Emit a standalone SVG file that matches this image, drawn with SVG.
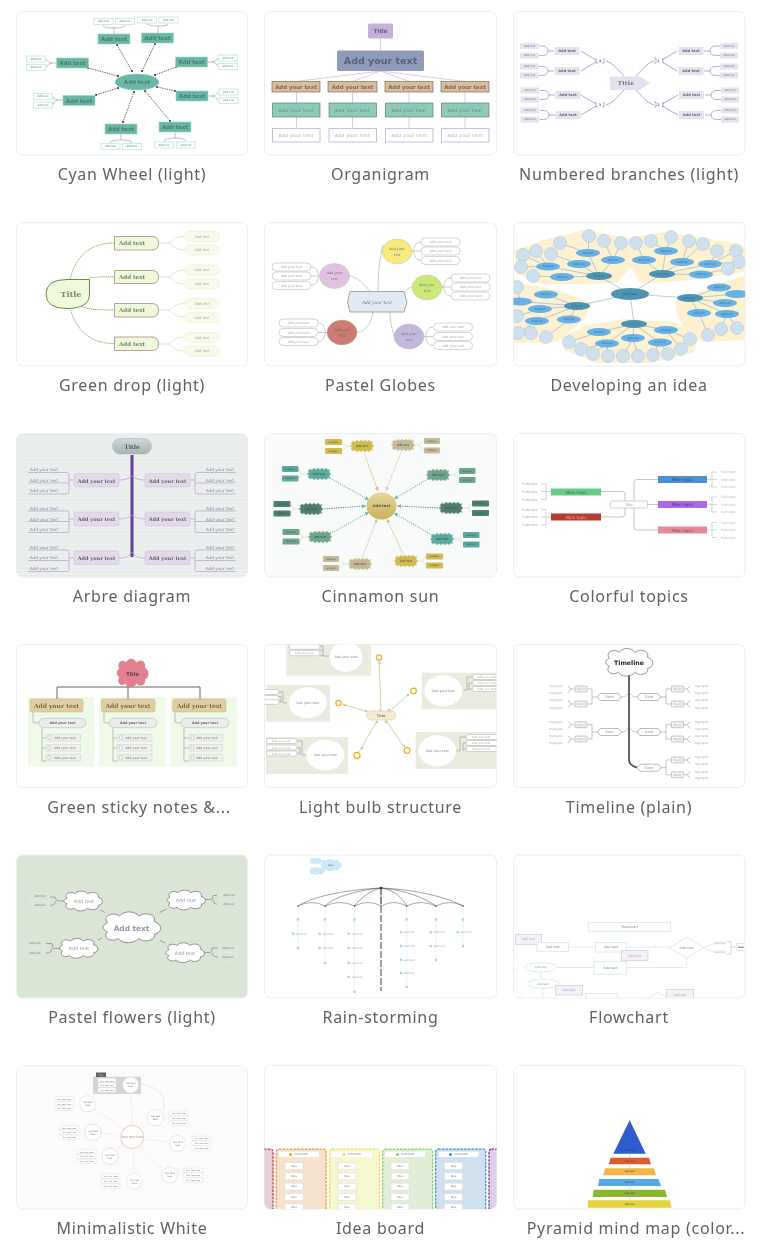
<svg xmlns="http://www.w3.org/2000/svg" width="768" height="1256" viewBox="0 0 768 1256">
<style>
.lab{font-family:"Noto Sans","Open Sans",sans-serif;font-size:16px;fill:#625e64;text-anchor:middle;letter-spacing:.72px}
.card{fill:#fff;stroke:#ecedf0;stroke-width:1}
text.t{font-family:"DejaVu Sans","Liberation Sans",sans-serif;text-anchor:middle;dominant-baseline:central;fill:#777;font-size:2.6px}
text.b{font-weight:700}
text.s{font-family:"DejaVu Serif","Liberation Serif",serif}
text.ht{fill:#aaa;font-size:2.7px}
text.a5{font-size:5.4px;fill:#4a7f72}
text.o1{font-size:5.4px;fill:#7a6a58}
text.o2{font-size:4.6px;fill:#648b80;letter-spacing:.3px}
text.o3{font-size:4.6px;fill:#aaa;letter-spacing:.3px}
text.n4{font-size:3.6px;fill:#6d6878}
text.n3{font-size:3.4px;fill:#665f80}
text.g6{font-size:5.6px;fill:#7a8670}
text.g4{font-size:3.6px;fill:#aaa}
text.p3{font-size:3.2px;fill:#aaa}
text.pi{font-size:3.4px;font-style:italic;fill:#6f6a70}
text.ds{font-size:2.6px;fill:#3d6f95}
text.an{font-size:5px;fill:#6a6070}
text.al{font-size:4.2px;fill:#8a8a8e}
text.bt{font-size:3px;fill:#3f4a40}
text.sb{font-size:2.2px;fill:#3f5048}
text.mt{font-size:4px}
text.ml{fill:#b0b0b0;font-size:3.6px}
text.mr{fill:#c8c8c8;font-size:3.6px}
text.sh6{font-size:6px;fill:#7a6a48}
text.sp3{font-size:3.4px;fill:#666}
text.si{font-size:3.2px}
text.lb{font-size:3.4px;fill:#888}
text.dt{font-size:3.6px;fill:#999}
text.pf{font-size:4.8px;fill:#999}
text.f3{font-size:3.4px;fill:#888}
text.f2{font-size:3px;fill:#aaa}
text.f1{font-size:2.8px;fill:#999}
text.w2{font-size:2.2px}
text.w1{font-size:2px}
text.cg{font-size:2.6px;fill:#888}
text.py{font-size:2.4px;fill:#444}
.cn{fill:none;stroke:#999;stroke-width:.6}
.cy{fill:#fff;stroke:#bfeee6;stroke-width:.9}
.tl{fill:#69b5a3;stroke:#9fdccf;stroke-width:.6}
.dot{stroke:#555;stroke-width:.9;stroke-dasharray:1.4 1;fill:none}
.d{fill:#333}
.or1{fill:#d9bd9b;stroke:#6a5a4a;stroke-width:.6}
.or2{fill:#8fc9b9;stroke:#4f7168;stroke-width:.6}
.or3{fill:#fff;stroke:#c8b5dc;stroke-width:.9}
.nb{fill:#e6e2ee}
.np{fill:none;stroke:#9088b8;stroke-width:.7}
.gl{fill:#f8fbe9;stroke:#eef1cf;stroke-width:.7}
.gn{fill:#eefadb;stroke:#a88a7c;stroke-width:.8}
.gd{fill:none;stroke:#7ca84a;stroke-width:.9;stroke-dasharray:1.2 .7}
.gc{fill:none;stroke:#c9dcb6;stroke-width:.6}
.pl{fill:#fff;stroke:#c4c4c4;stroke-width:.7}
.pc{fill:none;stroke:#aaa;stroke-width:.6}
.mi{fill:#66b1e6}
.le{fill:#cfdfee;stroke:#a8c4dc;stroke-width:.5}
.su{fill:#4f93b2}
.bl{fill:#fdf1d0}
.dc{stroke:#8cb8d8;stroke-width:.7;fill:none}
.ar{fill:#e3d9ea;stroke:#d0c4da;stroke-width:.6}
.ac{fill:none;stroke:#b79cd0;stroke-width:.7}
.cd{fill:none;stroke-width:1;stroke-dasharray:1.3 1}
.ct{fill:none;stroke:#b0b0b0;stroke-width:.7}
.st{fill:none;stroke:#d4d4d4;stroke-width:.6}
.sk{fill:#effbe8}
.sh{fill:#e0cda0;stroke:#cbb88e;stroke-width:.6}
.sp{fill:#ececec;stroke:#bbb;stroke-width:.6}
.sc{fill:#f0f0f0;stroke:#ccc;stroke-width:.5}
.sl{fill:none;stroke:#999;stroke-width:.6}
.lp{fill:#ecebdf}
.lw{fill:#fff}
.ll{fill:#fff;stroke:#aaa;stroke-width:.5}
.lr{fill:#fff;stroke:#f1b32c;stroke-width:1.3}
.lc{fill:none;stroke:#c6d19d;stroke-width:.9}
.tm{fill:#fff;stroke:#888;stroke-width:.6}
.te{fill:#f2f2f2;stroke:#999;stroke-width:.5}
.tc{fill:none;stroke:#888;stroke-width:.5}
.rb{fill:none;stroke:#555;stroke-width:.5}
.rl{fill:none;stroke:#d5eefc;stroke-width:.6}
.rd{fill:#9bd4f5}
.fl{fill:#fff;stroke:#cbe6dd;stroke-width:.7}
.fn{fill:#f5f1f8;stroke:#cfc4dc;stroke-width:.7}
.mw{fill:#fff;stroke:#dcdcdc;stroke-width:.7}
.mp{fill:#fff;stroke:#dadada;stroke-width:.45}
.md{fill:none;stroke:#f2cdbd;stroke-width:.5;stroke-dasharray:1 .7}
.ib{fill:#fff}
.ii{fill:#fff;stroke:#d6d6d6;stroke-width:.7;stroke-dasharray:1 .5}
.cdash{fill:none;stroke-width:1.25;stroke-dasharray:2.6 1.1}
.pb{fill:none;stroke:#e6ece3;stroke-width:.5}
</style>
<defs>
<filter id="soft" x="-2%" y="-2%" width="104%" height="104%"><feGaussianBlur stdDeviation=".4"/></filter>
<filter id="soft2" x="-2%" y="-5%" width="104%" height="110%"><feGaussianBlur stdDeviation=".2"/></filter>
<path id="cloud" d="M-40-8C-50-22-28-28-20-20-14-30 6-30 12-20 22-28 42-24 38-10 52-6 52 10 38 12 42 24 20 28 12 20 4 30-16 30-22 20-34 28-50 18-40 8-50 4-50-4-40-8Z"/>
<path id="burst" d="M-11-3-9-5-7-4-5-6-3-4.5-1-6 1-4.5 3-6 5-4.5 7-6 9-4 11-4.5 10-2 12 0 10 2 11 4.5 9 4 7 6 5 4.5 3 6 1 4.5-1 6-3 4.5-5 6-7 4-9 5-11 3-10 1.5-12 0-10-1.5Z"/>
<path id="hexd" d="M-12 0-9-3.5H9L12 0 9 3.5H-9Z"/>
<linearGradient id="sun" x1="0" y1="0" x2="0" y2="1"><stop offset="0" stop-color="#e6d79a"/><stop offset="1" stop-color="#c8b25c"/></linearGradient>
<linearGradient id="ti" x1="0" y1="0" x2="0" y2="1"><stop offset="0" stop-color="#cfd8d9"/><stop offset="1" stop-color="#a5b4b5"/></linearGradient>
<pattern id="stripes" width="6" height="3.6" patternUnits="userSpaceOnUse"><rect width="6" height="3.6" fill="#ebf0ef"/><path d="M0 3.2H6" stroke="#dfe7e6" stroke-width=".5"/></pattern>
<pattern id="grid" width="3.5" height="3.5" patternUnits="userSpaceOnUse"><rect width="3.5" height="3.5" fill="#fcfcfc"/><path d="M3.5 0V3.5H0" fill="none" stroke="#f1f1f1" stroke-width=".4"/></pattern>
<marker id="ag" markerWidth="5" markerHeight="5" refX="4" refY="2" orient="auto"><path d="M0 0 4 2 0 4Z" fill="#69bba9"/></marker>
<marker id="ay" markerWidth="5" markerHeight="5" refX="4" refY="2" orient="auto"><path d="M0 0 4 2 0 4Z" fill="#dcbf55"/></marker>
<marker id="at" markerWidth="5" markerHeight="5" refX="4" refY="2" orient="auto"><path d="M0 0 4 2 0 4Z" fill="#d3c7a8"/></marker>
<clipPath id="c6"><rect x="513.5" y="222.5" width="231.5" height="143.5" rx="6"/></clipPath>
<clipPath id="c7"><rect x="16.5" y="433.5" width="231" height="143.5" rx="6"/></clipPath>
<clipPath id="c11"><rect x="264.5" y="644.5" width="232" height="143" rx="6"/></clipPath>
<clipPath id="c15"><rect x="513.5" y="855" width="231.5" height="143" rx="6"/></clipPath>
<clipPath id="c17"><rect x="264.5" y="1065.5" width="232" height="143.5" rx="6"/></clipPath>
<clipPath id="c18"><rect x="513.5" y="1065.5" width="231.5" height="143.5" rx="6"/></clipPath>
</defs>
<rect width="768" height="1256" fill="#fff"/>

<g id="labels" filter="url(#soft2)">
<text class="lab" x="132" y="180">Cyan Wheel (light)</text>
<text class="lab" x="380.5" y="180">Organigram</text>
<text class="lab" x="629" y="180">Numbered branches (light)</text>
<text class="lab" x="132" y="391">Green drop (light)</text>
<text class="lab" x="380.5" y="391">Pastel Globes</text>
<text class="lab" x="629" y="391">Developing an idea</text>
<text class="lab" x="132" y="602">Arbre diagram</text>
<text class="lab" x="380.5" y="602">Cinnamon sun</text>
<text class="lab" x="629" y="602">Colorful topics</text>
<text class="lab" x="139" y="813">Green sticky notes &amp;...</text>
<text class="lab" x="380.5" y="813">Light bulb structure</text>
<text class="lab" x="629" y="813">Timeline (plain)</text>
<text class="lab" x="132" y="1023">Pastel flowers (light)</text>
<text class="lab" x="380.5" y="1023">Rain-storming</text>
<text class="lab" x="629" y="1023">Flowchart</text>
<text class="lab" x="132" y="1234">Minimalistic White</text>
<text class="lab" x="380.5" y="1234">Idea board</text>
<text class="lab" x="636" y="1234">Pyramid mind map (color...</text>
</g>

<g filter="url(#soft)">
<g id="cyan-wheel">
<rect class="card" x="16.5" y="11.5" width="231" height="143.5" rx="6"/>
<g id="cyan-connectors">
<path class="dot" d="M117 45 132 71M155 44 142 71M88 68 118 76M176 67 155 75M96 95 118 88M175 91 157 87M123 122 134 92M170 121 145 91"/>
<g class="d"><circle cx="117" cy="45" r="1"/><circle cx="155" cy="44" r="1"/><circle cx="88" cy="68" r="1"/><circle cx="176" cy="67" r="1"/><circle cx="96" cy="95" r="1"/><circle cx="175" cy="91" r="1"/><circle cx="123" cy="122" r="1"/><circle cx="170" cy="121" r="1"/><circle cx="132" cy="71" r="1"/><circle cx="142" cy="71" r="1"/><circle cx="118" cy="76" r="1"/><circle cx="155" cy="75" r="1"/><circle cx="118" cy="88" r="1"/><circle cx="157" cy="87" r="1"/><circle cx="134" cy="92" r="1"/><circle cx="145" cy="91" r="1"/></g>
<path class="cn" d="M114 34V27M103 25Q103 28 114 28T125 25M158 33V26M147 23Q147 26 158 26T168 23M56 63H52Q48 63 46 59M52 63Q48 63 46 67.5M207 62H212Q216 62 218 58M212 62Q216 62 218 66.5M63 100H58Q54 100 53 96.5M58 100Q54 100 53 105M208 96H212Q216 96 218 92M212 96Q216 96 218 100.5M121 134V140M110 143Q110 140 121 140T132 143M175 132V138M164 142Q164 138 175 138T186 142"/>
</g>
<ellipse id="cw-center" cx="137" cy="82" rx="22" ry="8" fill="#6bb7a7" stroke="#9adccf" stroke-width=".5"/>
<text class="t b a5" x="137" y="82">Add text</text>
<g id="cw-nodes">
<rect class="tl" x="98" y="34" width="32" height="10"/><text class="t b a5" x="114" y="39">Add text</text>
<rect class="tl" x="141.5" y="33" width="32" height="10"/><text class="t b a5" x="157.5" y="38">Add text</text>
<rect class="tl" x="56.5" y="58" width="32" height="10"/><text class="t b a5" x="72.5" y="63">Add text</text>
<rect class="tl" x="175.5" y="57" width="32" height="10"/><text class="t b a5" x="191.5" y="62">Add text</text>
<rect class="tl" x="63" y="95.5" width="32" height="10"/><text class="t b a5" x="79" y="100.5">Add text</text>
<rect class="tl" x="176" y="91" width="32" height="10"/><text class="t b a5" x="192" y="96">Add text</text>
<rect class="tl" x="105" y="124" width="32" height="10"/><text class="t b a5" x="121" y="129">Add text</text>
<rect class="tl" x="159" y="122" width="32" height="10"/><text class="t b a5" x="175" y="127">Add text</text>
</g>
<g id="cw-leaves">
<rect class="cy" x="94" y="18.5" width="19" height="6"/><text class="t" x="103.5" y="21.5">Add text</text>
<rect class="cy" x="115.5" y="18.5" width="19" height="6"/><text class="t" x="125" y="21.5">Add text</text>
<rect class="cy" x="137.5" y="17" width="19" height="6"/><text class="t" x="147" y="20">Add text</text>
<rect class="cy" x="159" y="17" width="19" height="6"/><text class="t" x="168.5" y="20">Add text</text>
<rect class="cy" x="26.5" y="56" width="19" height="6"/><text class="t" x="36" y="59">Add text</text>
<rect class="cy" x="26.5" y="64.5" width="19" height="6"/><text class="t" x="36" y="67.5">Add text</text>
<rect class="cy" x="218.5" y="55" width="19" height="6"/><text class="t" x="228" y="58">Add text</text>
<rect class="cy" x="218.5" y="63.5" width="19" height="6"/><text class="t" x="228" y="66.5">Add text</text>
<rect class="cy" x="33.5" y="93.5" width="19" height="6"/><text class="t" x="43" y="96.5">Add text</text>
<rect class="cy" x="33.5" y="102" width="19" height="6"/><text class="t" x="43" y="105">Add text</text>
<rect class="cy" x="219" y="89" width="19" height="6"/><text class="t" x="228.5" y="92">Add text</text>
<rect class="cy" x="219" y="97.5" width="19" height="6"/><text class="t" x="228.5" y="100.5">Add text</text>
<rect class="cy" x="101" y="143.5" width="19" height="6"/><text class="t" x="110.5" y="146.5">Add text</text>
<rect class="cy" x="122.5" y="143.5" width="19" height="6"/><text class="t" x="132" y="146.5">Add text</text>
<rect class="cy" x="154.5" y="142" width="19" height="6"/><text class="t" x="164" y="145">Add text</text>
<rect class="cy" x="176.5" y="142" width="19" height="6"/><text class="t" x="186" y="145">Add text</text>
</g>
</g>

<g id="organigram">
<rect class="card" x="264.5" y="11.5" width="232" height="143.5" rx="6"/>
<g id="org-connectors" fill="none" stroke="#cfc0e0" stroke-width=".8">
<path d="M380.5 38.5V50.5M380.5 71 296 81.5M380.5 71 352.5 81.5M380.5 71 409 81.5M380.5 71 465 81.5M296.5 92V128M352.5 92V128M409 92V128M465 92V128"/>
</g>
<rect x="368" y="23.5" width="25" height="15" rx="1.5" fill="#c3b1d8"/><text class="t b" x="380.5" y="31" style="font-size:5.6px;fill:#6d5c80">Title</text>
<rect x="337" y="50.5" width="87" height="20.5" rx="1.5" fill="#8f9bb8"/><text class="t b" x="380.5" y="60.5" style="font-size:9.5px;fill:#59617a">Add your text</text>
<g id="org-row-1"><rect class="or1" x="272" y="81.5" width="48" height="10.5"/><rect class="or1" x="328" y="81.5" width="49" height="10.5"/><rect class="or1" x="385" y="81.5" width="48" height="10.5"/><rect class="or1" x="441" y="81.5" width="48" height="10.5"/>
<text class="t b o1" x="296" y="86.7">Add your text</text><text class="t b o1" x="352.5" y="86.7">Add your text</text><text class="t b o1" x="409" y="86.7">Add your text</text><text class="t b o1" x="465" y="86.7">Add your text</text></g>
<g id="org-row-2"><rect class="or2" x="272.5" y="103" width="47.5" height="14"/><rect class="or2" x="329" y="103" width="47.5" height="14"/><rect class="or2" x="385.5" y="103" width="47.5" height="14"/><rect class="or2" x="441.5" y="103" width="47.5" height="14"/>
<text class="t o2" x="296" y="110">Add your text</text><text class="t o2" x="352.5" y="110">Add your text</text><text class="t o2" x="409" y="110">Add your text</text><text class="t o2" x="465" y="110">Add your text</text></g>
<g id="org-row-3"><rect class="or3" x="272.5" y="128.5" width="47.5" height="13.5"/><rect class="or3" x="329" y="128.5" width="47.5" height="13.5"/><rect class="or3" x="385.5" y="128.5" width="47.5" height="13.5"/><rect class="or3" x="441.5" y="128.5" width="47.5" height="13.5"/>
<text class="t o3" x="296" y="135">Add your text</text><text class="t o3" x="352.5" y="135">Add your text</text><text class="t o3" x="409" y="135">Add your text</text><text class="t o3" x="465" y="135">Add your text</text></g>
</g>

<g id="numbered-branches">
<rect class="card" x="513.5" y="11.5" width="231.5" height="143.5" rx="6"/>
<g id="nb-connectors">
<path class="np" d="M624 76C615 66 612 63 606 61M624 90C615 100 612 103 606 105M636 76C645 66 648 63 654 61M636 90C645 100 648 103 654 105M596 60 581 51M596 62 581 71M596 104 581 95M596 106 581 115M662 60 677 51M662 62 677 71M662 104 678 95M662 106 678 115"/>
<path class="np" d="M554 51H548C547 46 545 46 539 46M548 51C547 55.5 545 55.5 539 55.5M554 71H548C547 66.5 545 66.5 539 66.5M548 71C547 75.5 545 75.5 539 75.5M555 95H549C548 90.5 546 90.5 540 90.5M549 95C548 99.5 546 99.5 540 99.5M555 115H549C548 110.5 546 110.5 540 110.5M549 115C548 119.5 546 119.5 540 119.5M704 51H710C711 46 713 46 720 46M710 51C711 55.5 713 55.5 720 55.5M704 71H710C711 66.5 713 66.5 720 66.5M710 71C711 75.5 713 75.5 720 75.5M705 95H711C712 90.5 714 90.5 721 90.5M711 95C712 99.5 714 99.5 721 99.5M705 115H711C712 110.5 714 110.5 721 110.5M711 115C712 119.5 714 119.5 721 119.5"/>
</g>
<path d="M610 76.5H640L650 83 640 90H610Z" fill="#e5e1ec"/><text class="t b s" x="626" y="83" style="font-size:5.6px;fill:#6d6878;letter-spacing:.4px">Title</text>
<g id="nb-nums">
<path class="np" d="M596 58V63H598M604 58V63H602"/><path class="np" d="M654 58H656V63H654M663 58V63"/><path class="np" d="M596 102V107H598M604 102V107H602"/><path class="np" d="M654 102H656V107H654M663 102V107"/>
<text class="t b n3" x="600" y="60.5">4</text><text class="t b n3" x="658.5" y="60.5">1</text><text class="t b n3" x="600" y="104.5">3</text><text class="t b n3" x="658.5" y="104.5">2</text>
</g>
<g id="nb-nodes">
<rect class="nb" x="554.5" y="47" width="25" height="8"/><rect class="nb" x="554.5" y="67" width="25" height="8"/><rect class="nb" x="555.5" y="91" width="25" height="8"/><rect class="nb" x="555.5" y="111" width="25" height="8"/><rect class="nb" x="678.5" y="47" width="25" height="8"/><rect class="nb" x="678.5" y="67" width="25" height="8"/><rect class="nb" x="679" y="91" width="25" height="8"/><rect class="nb" x="679" y="111" width="25" height="8"/>
<text class="t b n4" x="567" y="51">Add text</text><text class="t b n4" x="567" y="71">Add text</text><text class="t b n4" x="568" y="95">Add text</text><text class="t b n4" x="568" y="115">Add text</text><text class="t b n4" x="691" y="51">Add text</text><text class="t b n4" x="691" y="71">Add text</text><text class="t b n4" x="691.5" y="95">Add text</text><text class="t b n4" x="691.5" y="115">Add text</text>
</g>
<g id="nb-leaves">
<rect class="nb" x="520" y="43" width="18.5" height="6"/><rect class="nb" x="520" y="52.5" width="18.5" height="6"/><rect class="nb" x="520" y="63.5" width="18.5" height="6"/><rect class="nb" x="520" y="72.5" width="18.5" height="6"/><rect class="nb" x="520.5" y="87.5" width="18.5" height="6"/><rect class="nb" x="520.5" y="96.5" width="18.5" height="6"/><rect class="nb" x="520.5" y="107.5" width="18.5" height="6"/><rect class="nb" x="520.5" y="116.5" width="18.5" height="6"/>
<rect class="nb" x="720" y="43" width="18" height="6"/><rect class="nb" x="720" y="52.5" width="18" height="6"/><rect class="nb" x="720" y="63.5" width="18" height="6"/><rect class="nb" x="720" y="72.5" width="18" height="6"/><rect class="nb" x="721" y="87.5" width="18" height="6"/><rect class="nb" x="721" y="96.5" width="18" height="6"/><rect class="nb" x="721" y="107.5" width="18" height="6"/><rect class="nb" x="721" y="116.5" width="18" height="6"/>
<text class="t" x="529.5" y="46">Add text</text><text class="t" x="529.5" y="55.5">Add text</text><text class="t" x="529.5" y="66.5">Add text</text><text class="t" x="529.5" y="75.5">Add text</text><text class="t" x="530" y="90.5">Add text</text><text class="t" x="530" y="99.5">Add text</text><text class="t" x="530" y="110.5">Add text</text><text class="t" x="530" y="119.5">Add text</text>
<text class="t" x="729" y="46">Add text</text><text class="t" x="729" y="55.5">Add text</text><text class="t" x="729" y="66.5">Add text</text><text class="t" x="729" y="75.5">Add text</text><text class="t" x="730" y="90.5">Add text</text><text class="t" x="730" y="99.5">Add text</text><text class="t" x="730" y="110.5">Add text</text><text class="t" x="730" y="119.5">Add text</text>
</g>
</g>

<g id="green-drop">
<rect class="card" x="16.5" y="222.5" width="231" height="143.5" rx="6"/>
<g id="gd-connectors">
<path class="gd" d="M70 279C76 256 90 243 114.5 243M89 278C96 277 104 276.5 114.5 277M80 306C90 310 100 310 114.5 310M70 308C76 330 90 343.5 114.5 343.5"/>
<path class="gc" d="M158.5 243H168C173 243 172 236 184.5 236.5M168 243C173 243 172 250 184.5 250M158.5 277H168C173 277 172 270 184.5 270M168 277C173 277 172 284 184.5 284M158.5 310H168C173 310 172 303.5 184.5 303.5M168 310C173 310 172 317 184.5 317M158.5 344H168C173 344 172 337 184.5 337M168 344C173 344 172 351 184.5 351"/>
</g>
<path d="M89.5 279.5V294Q89.5 308.5 67 308.5 46 308.5 46 294 46 279.5 67 279.5Z" fill="#eefadb" stroke="#6b8a4e" stroke-width="1"/>
<text class="t b s" x="71" y="293.5" style="font-size:8px;fill:#7a8670">Title</text>
<g id="gd-nodes">
<path class="gn" d="M114.5 236.5H152Q158.5 236.5 158.5 243 158.5 250 152 250H114.5Z"/><text class="t b s g6" x="132" y="243">Add text</text>
<path class="gn" d="M114.5 270.5H152Q158.5 270.5 158.5 277 158.5 283.5 152 283.5H114.5Z"/><text class="t b s g6" x="132" y="277">Add text</text>
<path class="gn" d="M114.5 303.5H152Q158.5 303.5 158.5 310 158.5 317 152 317H114.5Z"/><text class="t b s g6" x="132" y="310">Add text</text>
<path class="gn" d="M114.5 337H152Q158.5 337 158.5 344 158.5 350.5 152 350.5H114.5Z"/><text class="t b s g6" x="132" y="344">Add text</text>
</g>
<g id="gd-leaves">
<rect class="gl" x="184.5" y="231.5" width="35" height="10" rx="5"/><rect class="gl" x="184.5" y="245" width="35" height="10" rx="5"/><rect class="gl" x="184.5" y="265" width="35" height="10" rx="5"/><rect class="gl" x="184.5" y="279" width="35" height="10" rx="5"/><rect class="gl" x="184.5" y="298.5" width="35" height="10" rx="5"/><rect class="gl" x="184.5" y="312.5" width="35" height="10" rx="5"/><rect class="gl" x="184.5" y="332.5" width="35" height="10" rx="5"/><rect class="gl" x="184.5" y="346" width="35" height="10" rx="5"/>
<text class="t g4" x="202" y="236.5">Add text</text><text class="t g4" x="202" y="250">Add text</text><text class="t g4" x="202" y="270">Add text</text><text class="t g4" x="202" y="284">Add text</text><text class="t g4" x="202" y="303.5">Add text</text><text class="t g4" x="202" y="317.5">Add text</text><text class="t g4" x="202" y="337.5">Add text</text><text class="t g4" x="202" y="351">Add text</text>
</g>
</g>

<g id="pastel-globes">
<rect class="card" x="264.5" y="222.5" width="232" height="143.5" rx="6"/>
<g id="pg-connectors">
<path class="pc" d="M348 276C358 276 364 285 371 292M373 312C372 322 366 332 357 332M378 292C378 272 380 255 383 245M392 302C402 302 405 288 412 287M390 312C390 325 394 334 394 336M311 276H319M318 332.5H327M412 251H421M442 287H451M424 336.5H433"/>
<path class="pc" d="M311 267C317 267 317 271 319 276M311 285C317 285 317 281 319 276M318 323C324 323 324 328 326 332.5M318 341.5C324 341.5 324 337 326 332.5M421 242C415 242 415 246 413 251M421 260.5C415 260.5 415 255 413 251M451 278C445 278 445 283 443 287M451 296C445 296 445 291 443 287M433.5 327C427 327 427 332 425 336.5M433.5 345.5C427 345.5 427 341 425 336.5"/>
</g>
<path d="M347.5 302 350 291.5H404L407 302 404 312H350Z" fill="#e0eaf3" stroke="#9a9a9a" stroke-width=".9"/><text class="t s" x="377" y="302" style="font-size:4.4px;font-style:italic;fill:#7a7f88">Add your text</text>
<g id="pg-globes" stroke="#b8b8b8" stroke-width=".4">
<ellipse cx="334.5" cy="276" rx="15" ry="12.5" fill="#e3c1e2"/><ellipse cx="342" cy="332.5" rx="15" ry="12.5" fill="#cd7a6f"/><ellipse cx="397" cy="251.5" rx="15" ry="12.5" fill="#f6ea7e"/><ellipse cx="427" cy="287.5" rx="15" ry="12.5" fill="#cce876"/><ellipse cx="409" cy="336.5" rx="15" ry="12.5" fill="#c3b6df"/>
</g>
<g id="pg-globe-text">
<text class="t s pi" x="334.5" y="273">Add your</text><text class="t s pi" x="334.5" y="279">text</text>
<text class="t s pi" x="342" y="329.5">Add your</text><text class="t s pi" x="342" y="335.5">text</text>
<text class="t s pi" x="397" y="248.5">Add your</text><text class="t s pi" x="397" y="254.5">text</text>
<text class="t s pi" x="427" y="284.5">Add your</text><text class="t s pi" x="427" y="290.5">text</text>
<text class="t s pi" x="409" y="333.5">Add your</text><text class="t s pi" x="409" y="339.5">text</text>
</g>
<g id="pg-leaves">
<rect class="pl" x="272" y="263" width="39" height="8" rx="4"/><rect class="pl" x="272" y="272" width="39" height="8" rx="4"/><rect class="pl" x="272" y="281.5" width="39" height="8" rx="4"/>
<rect class="pl" x="279" y="319" width="39" height="8" rx="4"/><rect class="pl" x="279" y="328.5" width="39" height="8" rx="4"/><rect class="pl" x="279" y="337.5" width="39" height="8" rx="4"/>
<rect class="pl" x="421" y="238" width="39" height="8" rx="4"/><rect class="pl" x="421" y="247" width="39" height="8" rx="4"/><rect class="pl" x="421" y="256.5" width="39" height="8" rx="4"/>
<rect class="pl" x="451" y="274" width="39" height="8" rx="4"/><rect class="pl" x="451" y="283" width="39" height="8" rx="4"/><rect class="pl" x="451" y="292" width="39" height="8" rx="4"/>
<rect class="pl" x="433.5" y="323" width="39" height="8" rx="4"/><rect class="pl" x="433.5" y="332.5" width="39" height="8" rx="4"/><rect class="pl" x="433.5" y="341.5" width="39" height="8" rx="4"/>
<text class="t p3" x="291.5" y="267">Add your text</text><text class="t p3" x="291.5" y="276">Add your text</text><text class="t p3" x="291.5" y="285.5">Add your text</text>
<text class="t p3" x="298.5" y="323">Add your text</text><text class="t p3" x="298.5" y="332.5">Add your text</text><text class="t p3" x="298.5" y="341.5">Add your text</text>
<text class="t p3" x="440.5" y="242">Add your text</text><text class="t p3" x="440.5" y="251">Add your text</text><text class="t p3" x="440.5" y="260.5">Add your text</text>
<text class="t p3" x="470.5" y="278">Add your text</text><text class="t p3" x="470.5" y="287">Add your text</text><text class="t p3" x="470.5" y="296">Add your text</text>
<text class="t p3" x="453" y="327">Add your text</text><text class="t p3" x="453" y="336.5">Add your text</text><text class="t p3" x="453" y="345.5">Add your text</text>
</g>
</g>

<g id="developing-idea">
<rect class="card" x="513.5" y="222.5" width="231.5" height="143.5" rx="6"/>
<g clip-path="url(#c6)">
<g id="di-blobs">
<path class="bl" d="M514 250 544 240 584 230 629 238 631 267 617 283 584 284 541 284 517 273Z"/>
<path class="bl" d="M629 238 664 232 705 238 745 245V272L690 280 655 283H640L631 267Z"/>
<path class="bl" d="M676 300 745 275V340L701 342 684 330 676 310Z"/>
<path class="bl" d="M562 337 587 325 624 319 674 322 699 338 694 352 651 363H597L564 350Z"/>
<path class="bl" d="M514 282 557 290 592 303 584 320 557 342 514 343Z"/>
</g>
<g id="di-connectors">
<path class="dc" d="M630 294 599 276M630 294 662 274M630 294 690 298M630 294 634 324M630 294 577 306"/>
<path class="dc" d="M599 276 588 253M599 276 579 264M599 276 613 260M599 276 548 266.5M599 276 562 277M588 253 560 243M588 253 589 236M613 260 604 241M613 260 621 243M548 266.5 536 251M579 264 551 254M548 266.5 523 255M548 266.5 521 267M562 277 533 276"/>
<path class="dc" d="M662 274 644 260M662 274 666 251M662 274 682 262M662 274 710 264M662 274 701 274.5M644 260 636 243M666 251 651 241M666 251 671 237M682 262 689 241M682 262 703 244M710 264 717 251M710 264 736 251M710 264 739 262M701 274.5 728 269"/>
<path class="dc" d="M690 298 719 287.5M690 298 737 294M690 298 725 303M690 298 727 314M690 298 699 313M699 313 708 335M727 314 721 329M727 314 737 328"/>
<path class="dc" d="M634 324 599 332M634 324 666 330M634 324 633 338M634 324 607 343.5M634 324 660 342.5M599 332 569 342M607 343.5 581 349M607 343.5 593 354M607 343.5 608 356M633 338 623 356M633 338 638 356M660 342.5 653 355M660 342.5 668 354M666 330 681 349M666 330 690 339"/>
<path class="dc" d="M577 306 546 294.5M577 306 520 301.5M577 306 540 309M577 306 537 321M577 306 569 319.5M569 319.5 546 337M537 321 531 333M537 321 518 333M540 309 517 316M520 301.5 517 287"/>
</g>
<ellipse class="su" cx="630" cy="294" rx="19" ry="6"/><text class="t" x="630" y="294" style="font-size:3.4px;fill:#36607a">Add text</text>
<g id="di-sub" class="su"><ellipse cx="599" cy="276" rx="13" ry="4"/><ellipse cx="662" cy="274" rx="13" ry="4"/><ellipse cx="690" cy="298" rx="13" ry="4"/><ellipse cx="634" cy="324" rx="13" ry="4"/><ellipse cx="577" cy="306" rx="13" ry="4"/></g>
<g id="di-sub-text"><text class="t ds" x="599" y="276">Add text</text><text class="t ds" x="662" y="274">Add text</text><text class="t ds" x="690" y="298">Add text</text><text class="t ds" x="634" y="324">Add text</text><text class="t ds" x="577" y="306">Add text</text></g>
<g id="di-mid" class="mi"><ellipse cx="588" cy="253" rx="12" ry="4"/><ellipse cx="579" cy="264" rx="12" ry="4"/><ellipse cx="613" cy="260" rx="12" ry="4"/><ellipse cx="548" cy="266.5" rx="12" ry="4"/><ellipse cx="562" cy="277" rx="12" ry="4"/><ellipse cx="644" cy="260" rx="12" ry="4"/><ellipse cx="666" cy="251" rx="12" ry="4"/><ellipse cx="682" cy="262" rx="12" ry="4"/><ellipse cx="710" cy="264" rx="12" ry="4"/><ellipse cx="701" cy="274.5" rx="12" ry="4"/><ellipse cx="719" cy="287.5" rx="12" ry="4"/><ellipse cx="737" cy="294" rx="12" ry="4"/><ellipse cx="725" cy="303" rx="12" ry="4"/><ellipse cx="727" cy="314" rx="12" ry="4"/><ellipse cx="699" cy="313" rx="12" ry="4"/><ellipse cx="599" cy="332" rx="12" ry="4"/><ellipse cx="666" cy="330" rx="12" ry="4"/><ellipse cx="633" cy="338" rx="12" ry="4"/><ellipse cx="607" cy="343.5" rx="12" ry="4"/><ellipse cx="660" cy="342.5" rx="12" ry="4"/><ellipse cx="546" cy="294.5" rx="12" ry="4"/><ellipse cx="520" cy="301.5" rx="12" ry="4"/><ellipse cx="540" cy="309" rx="12" ry="4"/><ellipse cx="537" cy="321" rx="12" ry="4"/><ellipse cx="569" cy="319.5" rx="12" ry="4"/></g>
<g id="di-mid-text"><text class="t ds" x="588" y="253">Add text</text><text class="t ds" x="579" y="264">Add text</text><text class="t ds" x="613" y="260">Add text</text><text class="t ds" x="548" y="266.5">Add text</text><text class="t ds" x="562" y="277">Add text</text><text class="t ds" x="644" y="260">Add text</text><text class="t ds" x="666" y="251">Add text</text><text class="t ds" x="682" y="262">Add text</text><text class="t ds" x="710" y="264">Add text</text><text class="t ds" x="701" y="274.5">Add text</text><text class="t ds" x="719" y="287.5">Add text</text><text class="t ds" x="725" y="303">Add text</text><text class="t ds" x="727" y="314">Add text</text><text class="t ds" x="699" y="313">Add text</text><text class="t ds" x="599" y="332">Add text</text><text class="t ds" x="666" y="330">Add text</text><text class="t ds" x="633" y="338">Add text</text><text class="t ds" x="607" y="343.5">Add text</text><text class="t ds" x="660" y="342.5">Add text</text><text class="t ds" x="546" y="294.5">Add text</text><text class="t ds" x="540" y="309">Add text</text><text class="t ds" x="537" y="321">Add text</text><text class="t ds" x="569" y="319.5">Add text</text></g>
<g id="di-leaves" class="le"><circle cx="560" cy="243" r="6.5"/><circle cx="589" cy="236" r="6.5"/><circle cx="604" cy="241" r="6.5"/><circle cx="621" cy="243" r="6.5"/><circle cx="536" cy="251" r="6.5"/><circle cx="551" cy="254" r="6.5"/><circle cx="523" cy="255" r="6.5"/><circle cx="521" cy="267" r="6.5"/><circle cx="533" cy="276" r="6.5"/><circle cx="636" cy="243" r="6.5"/><circle cx="651" cy="241" r="6.5"/><circle cx="671" cy="237" r="6.5"/><circle cx="689" cy="241" r="6.5"/><circle cx="703" cy="244" r="6.5"/><circle cx="717" cy="251" r="6.5"/><circle cx="736" cy="251" r="6.5"/><circle cx="739" cy="262" r="6.5"/><circle cx="728" cy="269" r="6.5"/><circle cx="708" cy="335" r="6.5"/><circle cx="721" cy="329" r="6.5"/><circle cx="737" cy="328" r="6.5"/><circle cx="569" cy="342" r="6.5"/><circle cx="581" cy="349" r="6.5"/><circle cx="593" cy="354" r="6.5"/><circle cx="608" cy="356" r="6.5"/><circle cx="623" cy="356" r="6.5"/><circle cx="638" cy="356" r="6.5"/><circle cx="653" cy="355" r="6.5"/><circle cx="668" cy="354" r="6.5"/><circle cx="681" cy="349" r="6.5"/><circle cx="690" cy="339" r="6.5"/><circle cx="546" cy="337" r="6.5"/><circle cx="531" cy="333" r="6.5"/><circle cx="518" cy="333" r="6.5"/><circle cx="517" cy="316" r="6.5"/><circle cx="517" cy="287" r="6.5"/></g>
</g>
</g>

<g id="arbre-diagram">
<rect x="16.5" y="433.5" width="231" height="143.5" rx="6" fill="url(#stripes)" stroke="#eceff0"/>
<g clip-path="url(#c7)">
<g id="ad-connectors">
<path d="M132 455V557" stroke="#6a3d9a" stroke-width="3" fill="none"/>
<path class="ac" d="M119 480C125 480 128 479 132 476 136 479 139 480 145 480M119 519C125 519 128 518 132 515 136 518 139 519 145 519M119 558C125 558 128 557 132 552 136 557 139 558 145 558"/>
<path class="ac" d="M74 480H69M28 472.5H67Q69 472.5 69 475V491Q69 494 67 494H28M28 483H69M74 519H69M28 511H67Q69 511 69 513V530Q69 532.5 67 532.5H28M28 521.5H69M74 558H69M28 550H67Q69 550 69 552V569Q69 571.5 67 571.5H28M28 560.5H69"/>
<path class="ac" d="M190 480H195M236 472.5H197Q195 472.5 195 475V491Q195 494 197 494H236M236 483H195M190 519H195M236 511H197Q195 511 195 513V530Q195 532.5 197 532.5H236M236 521.5H195M190 558H195M236 550H197Q195 550 195 552V569Q195 571.5 197 571.5H236M236 560.5H195"/>
</g>
<rect x="112.5" y="438.5" width="39" height="15.5" rx="7.75" fill="url(#ti)" stroke="#9cafb0" stroke-width=".5"/><text class="t b s" x="132" y="446.5" style="font-size:6px;fill:#555">Title</text>
<g id="ad-nodes">
<rect class="ar" x="74" y="473.5" width="45" height="13.5" rx="1.5"/><rect class="ar" x="74" y="512" width="45" height="14" rx="1.5"/><rect class="ar" x="74" y="551" width="45" height="13.5" rx="1.5"/><rect class="ar" x="145" y="473.5" width="45" height="13.5" rx="1.5"/><rect class="ar" x="145" y="512" width="45" height="14" rx="1.5"/><rect class="ar" x="145" y="551" width="45" height="13.5" rx="1.5"/>
<text class="t s b an" x="96.5" y="480.5">Add your text</text><text class="t s b an" x="96.5" y="519">Add your text</text><text class="t s b an" x="96.5" y="557.5">Add your text</text><text class="t s b an" x="167.5" y="480.5">Add your text</text><text class="t s b an" x="167.5" y="519">Add your text</text><text class="t s b an" x="167.5" y="557.5">Add your text</text>
</g>
<g id="ad-leaves">
<text class="t al" x="44" y="469.5">Add your text</text><text class="t al" x="44" y="480">Add your text</text><text class="t al" x="44" y="490.5">Add your text</text><text class="t al" x="44" y="508.5">Add your text</text><text class="t al" x="44" y="519">Add your text</text><text class="t al" x="44" y="529.5">Add your text</text><text class="t al" x="44" y="547">Add your text</text><text class="t al" x="44" y="557.5">Add your text</text><text class="t al" x="44" y="568">Add your text</text>
<text class="t al" x="220" y="469.5">Add your text</text><text class="t al" x="220" y="480">Add your text</text><text class="t al" x="220" y="490.5">Add your text</text><text class="t al" x="220" y="508.5">Add your text</text><text class="t al" x="220" y="519">Add your text</text><text class="t al" x="220" y="529.5">Add your text</text><text class="t al" x="220" y="547">Add your text</text><text class="t al" x="220" y="557.5">Add your text</text><text class="t al" x="220" y="568">Add your text</text>
</g>
</g>
</g>

<g id="cinnamon-sun">
<rect x="264.5" y="433.5" width="232" height="143.5" rx="6" fill="#f9fafa" stroke="#eceef0"/>
<g id="cs-connectors">
<path class="cd" stroke="#dcbf55" marker-end="url(#ay)" d="M364 453 378 491"/>
<path class="cd" stroke="#69bba9" marker-end="url(#ag)" d="M328 477 369 500"/>
<path class="cd" stroke="#4d9a86" marker-end="url(#ag)" d="M322 509 366 506"/>
<path class="cd" stroke="#69bba9" marker-end="url(#ag)" d="M330 534 369 512"/>
<path class="cd" stroke="#d3c7a8" marker-end="url(#at)" d="M362 558 377 519"/>
<path class="cd" stroke="#d3c7a8" marker-end="url(#at)" d="M401 452 386 491"/>
<path class="cd" stroke="#69bba9" marker-end="url(#ag)" d="M428 479 394 499"/>
<path class="cd" stroke="#4d9a86" marker-end="url(#ag)" d="M440 508 397 506"/>
<path class="cd" stroke="#69bba9" marker-end="url(#ag)" d="M432 535 394 513"/>
<path class="cd" stroke="#dcbf55" marker-end="url(#ay)" d="M403 554 387 519"/>
<path class="st" d="M352 446 347 446 342 442M347 446 342 451M308 474 302 474 298 469M302 474 298 478.5M300 509 294 509 290 504M294 509 290 513.5M309 537 303 537 299 532M303 537 299 541.5M349 564 344 564 339 559M344 564 339 568M414 445 419 445 424 441M419 445 424 450.5M449 475 454 475 459 471M454 475 459 480M463 508 468 508 472 503.5M468 508 472 513M454 539 459 539 463 535M459 539 463 544.5M418 561 422 561 426 556.5M422 561 426 565.5"/>
</g>
<ellipse cx="381.5" cy="506" rx="15" ry="13.5" fill="url(#sun)"/><text class="t b" x="381.5" y="505.5" style="font-size:3.6px;fill:#5c5330">Add text</text>
<g id="cs-bursts">
<use href="#burst" transform="translate(362 446)" fill="#d1bb4e" stroke="#e2d17e" stroke-width=".4"/>
<use href="#burst" transform="translate(319 474)" fill="#5ba99d" stroke="#93cfc5" stroke-width=".4"/>
<use href="#burst" transform="translate(311 509)" fill="#4d7f70" stroke="#7fae9f" stroke-width=".4"/>
<use href="#burst" transform="translate(320 537)" fill="#6ca68c" stroke="#9ccab5" stroke-width=".4"/>
<use href="#burst" transform="translate(360 564)" fill="#c5b998" stroke="#ddd4bb" stroke-width=".4"/>
<use href="#burst" transform="translate(403 445)" fill="#c5b998" stroke="#ddd4bb" stroke-width=".4"/>
<use href="#burst" transform="translate(438 475)" fill="#6ca68c" stroke="#9ccab5" stroke-width=".4"/>
<use href="#burst" transform="translate(451 508)" fill="#4d7f70" stroke="#7fae9f" stroke-width=".4"/>
<use href="#burst" transform="translate(442 539)" fill="#5ba99d" stroke="#93cfc5" stroke-width=".4"/>
<use href="#burst" transform="translate(406 561)" fill="#d1bb4e" stroke="#e2d17e" stroke-width=".4"/>
</g>
<g id="cs-burst-text">
<text class="t bt" x="362" y="446">Add text</text><text class="t bt" x="319" y="474">Add text</text><text class="t bt" x="311" y="509">Add text</text><text class="t bt" x="320" y="537">Add text</text><text class="t bt" x="360" y="564">Add text</text><text class="t bt" x="403" y="445">Add text</text><text class="t bt" x="438" y="475">Add text</text><text class="t bt" x="451" y="508">Add text</text><text class="t bt" x="442" y="539">Add text</text><text class="t bt" x="406" y="561">Add text</text>
</g>
<g id="cs-leaves">
<g fill="#d1bb4e"><rect x="325" y="439" width="17" height="6" rx="1"/><rect x="325" y="448" width="17" height="6" rx="1"/><rect x="426" y="553.5" width="17" height="6" rx="1"/><rect x="426" y="562.5" width="17" height="6" rx="1"/></g>
<g fill="#5ba99d"><rect x="282" y="466" width="16.5" height="6" rx="1"/><rect x="282" y="475.5" width="16.5" height="6" rx="1"/><rect x="463" y="532" width="16.5" height="6" rx="1"/><rect x="463" y="541.5" width="16.5" height="6" rx="1"/></g>
<g fill="#4d7f70"><rect x="273.5" y="501" width="17" height="6" rx="1"/><rect x="273.5" y="510.5" width="17" height="6" rx="1"/><rect x="472" y="500.5" width="17" height="6" rx="1"/><rect x="472" y="510" width="17" height="6" rx="1"/></g>
<g fill="#6ca68c"><rect x="282.5" y="529" width="17" height="6" rx="1"/><rect x="282.5" y="538.5" width="17" height="6" rx="1"/><rect x="459" y="468" width="16.5" height="6" rx="1"/><rect x="459" y="477" width="16.5" height="6" rx="1"/></g>
<g fill="#c5b998"><rect x="323" y="556" width="16" height="6" rx="1"/><rect x="323" y="565" width="16" height="6" rx="1"/><rect x="424" y="438" width="16" height="6" rx="1"/><rect x="424" y="447.5" width="16" height="6" rx="1"/></g>
<text class="t sb" x="333.5" y="442">Subtopic</text><text class="t sb" x="333.5" y="451">Subtopic</text><text class="t sb" x="290" y="469">Subtopic</text><text class="t sb" x="290" y="478.5">Subtopic</text><text class="t sb" x="282" y="504">Subtopic</text><text class="t sb" x="282" y="513.5">Subtopic</text><text class="t sb" x="291" y="532">Subtopic</text><text class="t sb" x="291" y="541.5">Subtopic</text><text class="t sb" x="331" y="559">Subtopic</text><text class="t sb" x="331" y="568">Subtopic</text><text class="t sb" x="432" y="441">Subtopic</text><text class="t sb" x="432" y="450.5">Subtopic</text><text class="t sb" x="467" y="471">Subtopic</text><text class="t sb" x="467" y="480">Subtopic</text><text class="t sb" x="480.5" y="503.5">Subtopic</text><text class="t sb" x="480.5" y="513">Subtopic</text><text class="t sb" x="471" y="535">Subtopic</text><text class="t sb" x="471" y="544.5">Subtopic</text><text class="t sb" x="434.5" y="556.5">Subtopic</text><text class="t sb" x="434.5" y="565.5">Subtopic</text>
</g>
</g>

<g id="colorful-topics">
<rect class="card" x="513.5" y="433.5" width="231.5" height="143.5" rx="6"/>
<g id="ct-connectors">
<path class="ct" d="M601 491.5H622Q625 491.5 625 494V501M601 517H622Q625 517 625 514V508M647.5 504.5H658M634 501V482Q634 479.5 637 479.5H658M634 508V527Q634 530 637 530H658"/>
<path class="st" style="stroke:#bdbdbd" d="M551 491.5H541M551 517H541M541 484H546V499.5H541M541 509.5H546V525H541M707 479.5H717M707 504.5H717M707 530H717M717 472H712V487H717M717 497H712V512H717M717 522.5H712V537.5H717"/>
</g>
<rect x="610.5" y="501" width="37" height="7" rx="1" fill="#fff" stroke="#bbb" stroke-width=".7"/><text class="t" x="629" y="504.5" style="font-size:3.4px;fill:#999">Title</text>
<g id="ct-nodes">
<rect x="551" y="488.5" width="50" height="7" fill="#66cc88"/><text class="t mt" x="576" y="492" style="fill:#3a7050">Main topic</text>
<rect x="551" y="513.5" width="50" height="7" fill="#b83a33"/><text class="t mt" x="576" y="517" style="fill:#e6a8a0">Main topic</text>
<rect x="658" y="476" width="49" height="7" fill="#4a90d9"/><text class="t mt" x="682.5" y="479.5" style="fill:#24507c">Main topic</text>
<rect x="658" y="501" width="49" height="7" fill="#a86ae8"/><text class="t mt" x="682.5" y="504.5" style="fill:#4e2a78">Main topic</text>
<rect x="658" y="526.5" width="49" height="7" fill="#e48aa0"/><text class="t mt" x="682.5" y="530" style="fill:#8a4458">Main topic</text>
</g>
<g id="ct-leaves">
<text class="t ml" x="530" y="484">Subtopic</text><text class="t ml" x="530" y="491.5">Subtopic</text><text class="t ml" x="530" y="499.5">Subtopic</text><text class="t ml" x="530" y="509.5">Subtopic</text><text class="t ml" x="530" y="517">Subtopic</text><text class="t ml" x="530" y="525">Subtopic</text>
<text class="t mr" x="728.5" y="472">Subtopic</text><text class="t mr" x="728.5" y="479.5">Subtopic</text><text class="t mr" x="728.5" y="487">Subtopic</text><text class="t mr" x="728.5" y="497">Subtopic</text><text class="t mr" x="728.5" y="504.5">Subtopic</text><text class="t mr" x="728.5" y="512">Subtopic</text><text class="t mr" x="728.5" y="522.5">Subtopic</text><text class="t mr" x="728.5" y="530">Subtopic</text><text class="t mr" x="728.5" y="537.5">Subtopic</text>
</g>
</g>

<g id="green-sticky">
<rect class="card" x="16.5" y="644.5" width="231" height="143" rx="6"/>
<rect class="sk" x="28" y="697" width="66" height="69.7"/><rect class="sk" x="99" y="697" width="66.5" height="69.7"/><rect class="sk" x="170.5" y="697" width="66.5" height="69.7"/>
<g id="gs-connectors">
<path d="M57 699V687H200V699M128 687V699M132.5 684V687" fill="none" stroke="#555" stroke-width=".9"/>
<path class="sl" d="M33 712V722Q33 723 39 723M104 712V722Q104 723 109.5 723M175 712V722Q175 723 181 723M42 728V761H46M42 738H46M42 748H46M113 728V761H117M113 738H117M113 748H117M184 728V761H189M184 738H189M184 748H189"/>
</g>
<use href="#cloud" transform="translate(132.5 673) scale(.33 .52)" fill="#e08090"/><text class="t b" x="132.5" y="673.5" style="font-size:5px;fill:#6a3a42">Title</text>
<g id="gs-headers">
<rect class="sh" x="30" y="699" width="53" height="13" rx="2"/><rect class="sh" x="101.5" y="699" width="53.5" height="13" rx="2"/><rect class="sh" x="172.7" y="699" width="53.3" height="13" rx="2"/>
<text class="t b s sh6" x="56.5" y="705.5">Add your text</text><text class="t b s sh6" x="128" y="705.5">Add your text</text><text class="t b s sh6" x="199.5" y="705.5">Add your text</text>
</g>
<g id="gs-pills">
<rect class="sp" x="39" y="718.3" width="47" height="9.4" rx="4.7"/><rect class="sp" x="109.5" y="718.3" width="47.5" height="9.4" rx="4.7"/><rect class="sp" x="181" y="718.3" width="48" height="9.4" rx="4.7"/>
<text class="t b sp3" x="62.5" y="723">Add your text</text><text class="t b sp3" x="133" y="723">Add your text</text><text class="t b sp3" x="205" y="723">Add your text</text>
</g>
<g id="gs-items">
<rect class="sc" x="46" y="734.5" width="34.5" height="6.5"/><rect class="sc" x="46" y="744.5" width="34.5" height="6.5"/><rect class="sc" x="46" y="754.5" width="34.5" height="6.5"/><rect class="sc" x="117" y="734.5" width="35" height="6.5"/><rect class="sc" x="117" y="744.5" width="35" height="6.5"/><rect class="sc" x="117" y="754.5" width="35" height="6.5"/><rect class="sc" x="189" y="734.5" width="33.5" height="6.5"/><rect class="sc" x="189" y="744.5" width="33.5" height="6.5"/><rect class="sc" x="189" y="754.5" width="33.5" height="6.5"/>
<path fill="#fff" stroke="#999" stroke-width=".4" d="M48 736h3v3h-3zM48 746h3v3h-3zM48 756h3v3h-3zM119.5 736h3v3h-3zM119.5 746h3v3h-3zM119.5 756h3v3h-3zM191 736h3v3h-3zM191 746h3v3h-3zM191 756h3v3h-3z"/>
<text class="t si" x="65" y="737.7">Add your text</text><text class="t si" x="65" y="747.7">Add your text</text><text class="t si" x="65" y="757.7">Add your text</text><text class="t si" x="136" y="737.7">Add your text</text><text class="t si" x="136" y="747.7">Add your text</text><text class="t si" x="136" y="757.7">Add your text</text><text class="t si" x="207" y="737.7">Add your text</text><text class="t si" x="207" y="747.7">Add your text</text><text class="t si" x="207" y="757.7">Add your text</text>
</g>
</g>

<g id="light-bulb">
<rect class="card" x="264.5" y="644.5" width="232" height="143" rx="6"/>
<g clip-path="url(#c11)">
<g id="lb-panels"><rect class="lp" x="286.5" y="644" width="84.5" height="31.7"/><rect class="lp" x="266" y="685" width="64" height="36.7"/><rect class="lp" x="266" y="737" width="82" height="37"/><rect class="lp" x="421.7" y="672.7" width="75" height="36.5"/><rect class="lp" x="415.7" y="732" width="81" height="37"/></g>
<g id="lb-connectors">
<path class="lc" d="M381 711 379 661M368 712 342 704M377 721 359 752M390 711 409 694M386 720 404 747"/>
<g fill="#c6d19d"><circle cx="380" cy="711" r="1.3"/><circle cx="379.5" cy="663" r="1.3"/><circle cx="366" cy="711" r="1.3"/><circle cx="345" cy="705" r="1.3"/><circle cx="377" cy="722" r="1.3"/><circle cx="362" cy="748" r="1.3"/><circle cx="389" cy="710" r="1.3"/><circle cx="408" cy="695" r="1.3"/><circle cx="386" cy="722" r="1.3"/><circle cx="404" cy="746" r="1.3"/></g>
<path class="sl" d="M320 646H323V656H329M320 650H323M320 655.7H323M279 692H283V703H287M279 696.5H281V703M279 701H281M297 741H302V755H306M297 747.7H300V755M297 753.3H300M472 677H467V690H464M472 683H469V690M472 689H469M466 737H460V751H456M466 743H463V751M466 749H463"/>
</g>
<g id="lb-bubbles">
<ellipse class="lw" cx="346" cy="657" rx="16.5" ry="15"/><ellipse class="lw" cx="307.7" cy="702.7" rx="19" ry="15.5"/><ellipse class="lw" cx="325.3" cy="755" rx="19" ry="15.5"/><ellipse class="lw" cx="443.3" cy="690.7" rx="19" ry="15.5"/><ellipse class="lw" cx="437.3" cy="750.7" rx="19" ry="15.5"/>
<text class="t lb" x="346" y="657">Add your text</text><text class="t lb" x="307.7" y="702.7">Add your text</text><text class="t lb" x="325.3" y="755">Add your text</text><text class="t lb" x="443.3" y="690.7">Add your text</text><text class="t lb" x="437.3" y="750.7">Add your text</text>
</g>
<g id="lb-rings"><circle class="lr" cx="379" cy="657.5" r="2.6"/><circle class="lr" cx="338.5" cy="703" r="2.6"/><circle class="lr" cx="357" cy="755.5" r="3"/><circle class="lr" cx="413.5" cy="691" r="2.8"/><circle class="lr" cx="407" cy="750.5" r="2.8"/></g>
<rect x="366.7" y="711" width="29" height="9" rx="4.5" fill="#f5ecd0" stroke="#c9c3a4" stroke-width=".5"/><text class="t b" x="381" y="715.5" style="font-size:3.4px;fill:#777">Title</text>
<g id="lb-pills">
<rect class="ll" x="289" y="644" width="31" height="5.3" rx="2.5"/><rect class="ll" x="289" y="650.4" width="31" height="5.3" rx="2.5"/>
<rect class="ll" x="260" y="689.5" width="19" height="5" rx="2.5"/><rect class="ll" x="260" y="695.5" width="19" height="5" rx="2.5"/><rect class="ll" x="260" y="699.7" width="19" height="4.7" rx="2.3"/>
<rect class="ll" x="266" y="738.5" width="31" height="5" rx="2.5"/><rect class="ll" x="266" y="745" width="31" height="5" rx="2.5"/><rect class="ll" x="266" y="751" width="31" height="5" rx="2.5"/>
<rect class="ll" x="472.3" y="674.5" width="30" height="5" rx="2.5"/><rect class="ll" x="472.3" y="680.5" width="30" height="5" rx="2.5"/><rect class="ll" x="472.3" y="686.5" width="30" height="5" rx="2.5"/>
<rect class="ll" x="466" y="734.5" width="36" height="5" rx="2.5"/><rect class="ll" x="466" y="740.5" width="36" height="5" rx="2.5"/><rect class="ll" x="466" y="746.5" width="36" height="5" rx="2.5"/>
<text class="t ht" x="304" y="653">Add your text</text><text class="t ht" x="281" y="741">Add your text</text><text class="t ht" x="281" y="747.5">Add your text</text><text class="t ht" x="281" y="753.5">Add your text</text><text class="t ht" x="487" y="677">Add your text</text><text class="t ht" x="487" y="683">Add your text</text><text class="t ht" x="487" y="689">Add your text</text><text class="t ht" x="481" y="737">Add your text</text><text class="t ht" x="481" y="743">Add your text</text><text class="t ht" x="481" y="749">Add your text</text>
</g>
</g>
</g>

<g id="timeline">
<rect class="card" x="513.5" y="644.5" width="231.5" height="143" rx="6"/>
<g id="tl-connectors">
<path d="M629 674V760Q629 765 637 767.7" fill="none" stroke="#555" stroke-width="1.8"/>
<path class="tc" d="M621 697C625 697 626 696 629 692 632 696 633 697 637 697M621 732C625 732 626 731 629 727 632 731 633 732 637 732"/>
<path class="tc" d="M597.3 697H592M587 689H592V704H587M587 724.7H592V739H587M597.3 732H592M574 689H571L568 686M571 689 568 693M574 704H571L568 700M571 704 568 707.5M574 724.7H571L568 721.5M571 724.7 568 728.5M574 739H571L568 736M571 739 568 743"/>
<path class="tc" d="M661 697H666M671 689H666V704H671M671 724.7H666V739H671M661 732H666M661 767.7H666M671 760H666V774.7H671M684 689H687L690 686M687 689 690 693M684 704H687L690 700M687 704 690 707.5M684 724.7H687L690 721.5M687 724.7 690 728.5M684 739H687L690 736M687 739 690 743M684 760H687L690 757M687 760 690 764M684 774.7H687L690 771.5M687 774.7 690 778"/>
</g>
<use href="#cloud" transform="translate(629 662.3) scale(.49 .5)" fill="#fff" stroke="#555" stroke-width="1.2"/><text class="t b" x="629" y="662.5" style="font-size:6.2px;fill:#222">Timeline</text>
<g id="tl-dates">
<g class="tm"><use href="#hexd" x="609.3" y="697"/><use href="#hexd" x="609.3" y="732"/><use href="#hexd" x="649" y="697"/><use href="#hexd" x="649" y="732"/><use href="#hexd" x="649" y="767.7"/></g>
<text class="t dt" x="609.3" y="697">Date</text><text class="t dt" x="609.3" y="732">Date</text><text class="t dt" x="649" y="697">Date</text><text class="t dt" x="649" y="732">Date</text><text class="t dt" x="649" y="767.7">Date</text>
</g>
<g id="tl-events">
<rect class="te" x="575" y="686" width="12" height="6" rx=".8"/><rect class="te" x="575" y="701" width="12" height="6" rx=".8"/><rect class="te" x="575" y="721.7" width="12" height="6" rx=".8"/><rect class="te" x="575" y="736" width="12" height="6" rx=".8"/><rect class="te" x="671.5" y="686" width="12" height="6" rx=".8"/><rect class="te" x="671.5" y="701" width="12" height="6" rx=".8"/><rect class="te" x="671.5" y="721.7" width="12" height="6" rx=".8"/><rect class="te" x="671.5" y="736" width="12" height="6" rx=".8"/><rect class="te" x="671.5" y="757" width="12" height="6" rx=".8"/><rect class="te" x="671.5" y="771.7" width="12" height="6" rx=".8"/>
<text class="t ht" x="581" y="689">Event</text><text class="t ht" x="581" y="704">Event</text><text class="t ht" x="581" y="724.7">Event</text><text class="t ht" x="581" y="739">Event</text><text class="t ht" x="677.5" y="689">Event</text><text class="t ht" x="677.5" y="704">Event</text><text class="t ht" x="677.5" y="724.7">Event</text><text class="t ht" x="677.5" y="739">Event</text><text class="t ht" x="677.5" y="760">Event</text><text class="t ht" x="677.5" y="774.7">Event</text>
</g>
<g id="tl-highlights">
<text class="t ht" x="556" y="686">Highlights</text><text class="t ht" x="556" y="693">Highlights</text><text class="t ht" x="556" y="700">Highlights</text><text class="t ht" x="556" y="707.5">Highlights</text><text class="t ht" x="556" y="721.5">Highlights</text><text class="t ht" x="556" y="728.5">Highlights</text><text class="t ht" x="556" y="736">Highlights</text><text class="t ht" x="556" y="743">Highlights</text>
<text class="t ht" x="701.5" y="686">Highlights</text><text class="t ht" x="701.5" y="693">Highlights</text><text class="t ht" x="701.5" y="700">Highlights</text><text class="t ht" x="701.5" y="707.5">Highlights</text><text class="t ht" x="701.5" y="721.5">Highlights</text><text class="t ht" x="701.5" y="728.5">Highlights</text><text class="t ht" x="701.5" y="736">Highlights</text><text class="t ht" x="701.5" y="743">Highlights</text><text class="t ht" x="701.5" y="757">Highlights</text><text class="t ht" x="701.5" y="764">Highlights</text><text class="t ht" x="701.5" y="771.5">Highlights</text><text class="t ht" x="701.5" y="778">Highlights</text>
</g>
</g>

<g id="pastel-flowers">
<rect x="16.5" y="855" width="231" height="143" rx="6" fill="#dbe5d6" stroke="#edf0ee"/>
<g id="pf-connectors">
<path fill="none" stroke="#888" stroke-width=".8" d="M100.7 910 105 912.5M159.7 912.5 166.7 909M98 940 102 938M160 940.5 165 943"/>
<path class="pc" style="stroke:#777" d="M64 901H58Q56 901 55 897H50M55 901Q56 905 50 905.5M205 899.5H211Q213 899.5 213 895.5H217M213 899.5Q213 904 217 904.5M60 948.5H54Q52 948.5 52 943.5H46M52 948.5Q52 953 46 953M203 952.5H210Q212 952.5 212 948H218M212 952.5Q212 957 218 957"/>
</g>
<g id="pf-leaf-boxes">
<rect class="pb" x="31" y="892.5" width="18" height="8"/><rect class="pb" x="31" y="901.5" width="18" height="8"/><rect class="pb" x="220" y="891.5" width="18" height="8"/><rect class="pb" x="220" y="900.5" width="18" height="8"/><rect class="pb" x="26" y="939.5" width="18" height="8"/><rect class="pb" x="26" y="949" width="18" height="8"/><rect class="pb" x="219" y="944" width="18" height="8"/><rect class="pb" x="219" y="953" width="18" height="8"/>
</g>
<g id="pf-clouds" fill="#fff" stroke="#666" stroke-width="1.2">
<use href="#cloud" transform="translate(131.5 927.3) scale(.6 .56)"/>
<use href="#cloud" transform="translate(83 901) scale(.4 .36)" stroke-width="1.8"/>
<use href="#cloud" transform="translate(186 900) scale(.4 .36)" stroke-width="1.8"/>
<use href="#cloud" transform="translate(78.5 948.3) scale(.4 .36)" stroke-width="1.8"/>
<use href="#cloud" transform="translate(185 952.7) scale(.4 .36)" stroke-width="1.8"/>
</g>
<text class="t b" x="131.5" y="928" style="font-size:7.4px;fill:#999">Add text</text>
<text class="t pf" x="84" y="901">Add text</text><text class="t pf" x="186" y="900">Add text</text><text class="t pf" x="79" y="948.5">Add text</text><text class="t pf" x="185" y="953">Add text</text>
<g id="pf-leaves">
<text class="t" x="40" y="896.5">Add text</text><text class="t" x="40" y="905.5">Add text</text><text class="t" x="229" y="895.5">Add text</text><text class="t" x="229" y="904.5">Add text</text><text class="t" x="35" y="943.5">Add text</text><text class="t" x="35" y="953">Add text</text><text class="t" x="228" y="948">Add text</text><text class="t" x="228" y="957">Add text</text>
</g>
</g>

<g id="rain-storming">
<rect class="card" x="264.5" y="855" width="232" height="143" rx="6"/>
<g id="rs-clouds" fill="#c9e8f8"><use href="#cloud" transform="translate(331 865) scale(.22 .22)"/><use href="#cloud" transform="translate(316 861) scale(.13 .12)"/><use href="#cloud" transform="translate(317 871) scale(.16 .14)"/></g>
<text class="t" x="331" y="865" style="font-size:2.4px;fill:#555">Rain</text>
<g id="rs-connectors">
<path class="rl" d="M298 906V948M325 906V963M354.5 906V991.7M406.7 906V987M436 906V960M463 906V946"/>
<path class="rb" style="stroke-width:.55" d="M381 888C340 890 310 898 298 906M381 888C360 890 335 896 325 906M381 888C372 890 360 898 354.5 906M381 888V906M381 888C395 890 402 898 406.7 906M381 888C405 890 425 898 436 906M381 888C420 890 448 898 463 906"/>
<path class="rb" d="M298 906Q312 899 325 906Q340 899 354.5 906Q368 899 381 906Q394 899 406.7 906Q421 899 436 906Q450 899 463 906"/>
<path d="M381 888V991" fill="none" stroke="#555" stroke-width="1.1" stroke-dasharray="7 2"/>
</g>
<circle class="d" cx="381" cy="888" r="1.3"/>
<g class="d"><circle cx="298" cy="906" r=".7"/><circle cx="325" cy="906" r=".7"/><circle cx="354.5" cy="906" r=".7"/><circle cx="406.7" cy="906" r=".7"/><circle cx="436" cy="906" r=".7"/><circle cx="463" cy="906" r=".7"/></g>
<g id="rs-drops" class="rd"><circle cx="298" cy="919.5" r="1.3"/><circle cx="293" cy="933.7" r="1.3"/><circle cx="298" cy="948" r="1.3"/><circle cx="325" cy="919.5" r="1.3"/><circle cx="319.7" cy="933.7" r="1.3"/><circle cx="319.7" cy="948" r="1.3"/><circle cx="325" cy="963" r="1.3"/><circle cx="354.5" cy="919.5" r="1.3"/><circle cx="348.7" cy="933.7" r="1.3"/><circle cx="348.7" cy="948" r="1.3"/><circle cx="348.7" cy="962.7" r="1.3"/><circle cx="348.7" cy="977" r="1.3"/><circle cx="354.5" cy="991.7" r="1.3"/><circle cx="406.7" cy="919.5" r="1.3"/><circle cx="401" cy="932.3" r="1.3"/><circle cx="401" cy="946" r="1.3"/><circle cx="401" cy="959.7" r="1.3"/><circle cx="401" cy="973" r="1.3"/><circle cx="406.7" cy="987" r="1.3"/><circle cx="436" cy="919.5" r="1.3"/><circle cx="430.7" cy="932.3" r="1.3"/><circle cx="430.7" cy="946" r="1.3"/><circle cx="436" cy="960" r="1.3"/><circle cx="463" cy="919.5" r="1.3"/><circle cx="457.7" cy="932.3" r="1.3"/><circle cx="463" cy="946" r="1.3"/></g>
<g id="rs-text">
<text class="t ht" x="301" y="933.7">add text</text><text class="t ht" x="328" y="933.7">add text</text><text class="t ht" x="328" y="948">add text</text><text class="t ht" x="357" y="933.7">add text</text><text class="t ht" x="357" y="948">add text</text><text class="t ht" x="357" y="962.7">add text</text><text class="t ht" x="357" y="977">add text</text><text class="t ht" x="409" y="932.3">add text</text><text class="t ht" x="409" y="946">add text</text><text class="t ht" x="409" y="959.7">add text</text><text class="t ht" x="409" y="973">add text</text><text class="t ht" x="439" y="932.3">add text</text><text class="t ht" x="439" y="946">add text</text><text class="t ht" x="466" y="932.3">add text</text>
</g>
</g>

<g id="flowchart">
<rect class="card" x="513.5" y="855" width="231.5" height="143" rx="6"/>
<g clip-path="url(#c15)">
<g id="fc-connectors" fill="none" stroke="#cfe8df" stroke-width=".7">
<path d="M541.7 944V947H537M568.3 947H595M626.7 947H670M686.7 958V967.5H626.7M594 967.5H556.4M540.7 972V979M543 988.5V998M703.7 947 713 944M703.7 948 713 951.7"/>
<path d="M727 941.5H731V954H727M731 947H736.7" stroke="#ccc"/>
</g>
<g id="fc-nodes">
<rect class="fl" x="588.7" y="922.3" width="82" height="9.4"/><text class="t f3" x="629.7" y="927">Flowchart</text>
<rect class="fn" x="515.3" y="934.3" width="26.4" height="10"/><text class="t f2" x="528.5" y="939.3">Add text</text>
<rect class="fl" x="537" y="942.7" width="31.3" height="9"/><text class="t f3" x="552.7" y="947.2">Add text</text>
<rect class="fl" x="595.3" y="942.7" width="31.4" height="9.3"/><text class="t f3" x="611" y="947.3">Add text</text>
<rect class="fn" x="621.3" y="950.7" width="26.7" height="9.6"/><text class="t f2" x="634.6" y="955.5">Add text</text>
<path class="fl" d="M669.7 947.7 686.7 937.2 703.7 947.7 686.7 958.2Z"/><text class="t f3" x="686.7" y="947.7">Add text</text>
<rect class="fl" x="594" y="961.3" width="32.7" height="13"/><text class="t f3" x="610.3" y="968">Add text</text>
<ellipse class="fl" cx="540.7" cy="967.3" rx="15.7" ry="4.7"/><text class="t f1" x="540.7" y="967.3">Add text</text>
<ellipse class="fl" cx="543" cy="983.7" rx="15.7" ry="4.7"/><text class="t f1" x="543" y="983.7">Add text</text>
<rect class="fn" x="555.7" y="985.3" width="27" height="9.7"/><text class="t f2" x="569.2" y="990">Add text</text>
<rect class="fl" x="586" y="993.3" width="31.3" height="10"/>
<rect class="fn" x="666.7" y="989.3" width="27" height="10"/><text class="t f2" x="680.2" y="994.5">Add text</text>
<path class="fl" d="M641 1002 658 992.3 675 1002"/>
<rect x="713" y="941" width="14" height="4.5" fill="#fbfbfb"/><rect x="713" y="949.5" width="14" height="4.5" fill="#fbfbfb"/><text class="t ht" x="720" y="943.3">Add text</text><text class="t ht" x="720" y="951.7">Add text</text>
<rect x="736.7" y="943.5" width="12" height="7" fill="#fff" stroke="#c8e6dc" stroke-width=".7"/><text class="t b" x="741" y="947" style="font-size:2.4px;fill:#444">Sum</text>
<rect x="513" y="962" width="7" height="3.2" fill="#fafafa"/><rect x="513" y="966.5" width="7" height="3.2" fill="#fafafa"/>
<rect x="513" y="992" width="9.5" height="5" fill="#fff" stroke="#e4e4e4" stroke-width=".4"/>
</g>
</g>
</g>

<g id="minimalistic-white">
<rect x="16.5" y="1065.5" width="231" height="143.5" rx="6" fill="url(#grid)" stroke="#eceef0"/>
<g id="mw-connectors">
<path class="md" d="M132.3 1125 130.7 1094M124 1129 94 1109M143 1128 150 1124M120.8 1137 101 1132.3M143.8 1139 169 1142M122 1144 116 1150M133.5 1148.5 134 1173M141 1146 161 1168"/>
<path fill="none" stroke="#d8d8d8" stroke-width=".6" d="M141 1084C155 1086 164 1094 164 1103 164 1110 163 1111 162 1112"/>
</g>
<rect x="93" y="1076.7" width="48" height="17.3" fill="#d5d5d5"/>
<rect x="96" y="1072.5" width="10" height="4.5" fill="#5f6368"/><text class="t" x="101" y="1074.8" style="font-size:2px;fill:#ccc">Title</text>
<circle cx="132.3" cy="1137" r="11.5" fill="#fff" stroke="#efb39a" stroke-width=".7"/><text class="t" x="132.3" y="1137" style="font-size:3px;fill:#888">Your text here</text>
<g id="mw-circles"><circle class="mw" cx="130.7" cy="1085" r="8"/><circle class="mw" cx="87.7" cy="1103.7" r="8"/><circle class="mw" cx="155.3" cy="1117.7" r="8"/><circle class="mw" cx="93" cy="1132.3" r="8"/><circle class="mw" cx="177.7" cy="1143.3" r="8"/><circle class="mw" cx="110" cy="1156.3" r="8"/><circle class="mw" cx="134.3" cy="1181.3" r="8"/><circle class="mw" cx="169.7" cy="1175" r="8"/>
<text class="t w2" x="130.7" y="1083.5">Your text</text><text class="t w2" x="130.7" y="1086.8">here</text><text class="t w2" x="87.7" y="1102.3">Your text</text><text class="t w2" x="87.7" y="1105.5">here</text><text class="t w2" x="155.3" y="1116.3">Your text</text><text class="t w2" x="155.3" y="1119.5">here</text><text class="t w2" x="93" y="1131">Your text</text><text class="t w2" x="93" y="1134">here</text><text class="t w2" x="177.7" y="1142">Your text</text><text class="t w2" x="177.7" y="1145">here</text><text class="t w2" x="110" y="1155">Your text</text><text class="t w2" x="110" y="1158">here</text><text class="t w2" x="134.3" y="1180">Your text</text><text class="t w2" x="134.3" y="1183">here</text><text class="t w2" x="169.7" y="1173.7">Your text</text><text class="t w2" x="169.7" y="1176.7">here</text></g>
<g id="mw-pills">
<rect class="mp" x="98" y="1078.3" width="18" height="4.4" rx="1.5"/><rect class="mp" x="98" y="1082.8" width="18" height="4.4" rx="1.5"/><rect class="mp" x="98" y="1087.8" width="18" height="4.4" rx="1.5"/>
<rect class="mp" x="54.5" y="1096.5" width="19.5" height="4.4" rx="2"/><rect class="mp" x="54.5" y="1101.5" width="19.5" height="4.4" rx="2"/><rect class="mp" x="54.5" y="1106.1" width="19.5" height="4.4" rx="2"/>
<rect class="mp" x="169" y="1111.1" width="19.5" height="4.4" rx="2"/><rect class="mp" x="169" y="1115.8" width="19.5" height="4.4" rx="2"/><rect class="mp" x="169" y="1120.8" width="19.5" height="4.4" rx="2"/>
<rect class="mp" x="59" y="1125.5" width="20" height="4.4" rx="2"/><rect class="mp" x="59" y="1130.1" width="20" height="4.4" rx="2"/><rect class="mp" x="59" y="1135.1" width="20" height="4.4" rx="2"/>
<rect class="mp" x="191.5" y="1136.1" width="20" height="4.4" rx="2"/><rect class="mp" x="191.5" y="1141.1" width="20" height="4.4" rx="2"/><rect class="mp" x="191.5" y="1145.8" width="20" height="4.4" rx="2"/>
<rect class="mp" x="76.5" y="1149.5" width="20" height="4.4" rx="2"/><rect class="mp" x="76.5" y="1154.1" width="20" height="4.4" rx="2"/><rect class="mp" x="76.5" y="1159.1" width="20" height="4.4" rx="2"/>
<rect class="mp" x="101" y="1174.1" width="19" height="4.4" rx="1.5"/><rect class="mp" x="101" y="1179.1" width="19" height="4.4" rx="1.5"/><rect class="mp" x="101" y="1183.8" width="19" height="4.4" rx="1.5"/>
<rect class="mp" x="183" y="1168.1" width="20" height="4.4" rx="2"/><rect class="mp" x="183" y="1172.8" width="20" height="4.4" rx="2"/><rect class="mp" x="183" y="1177.8" width="20" height="4.4" rx="2"/>
</g>
<g id="mw-pill-text"><text class="t w1" x="107" y="1080.5">Your text here</text><text class="t w1" x="107" y="1085">Your text here</text><text class="t w1" x="107" y="1090">Your text here</text><text class="t w1" x="64" y="1098.7">Your text here</text><text class="t w1" x="64" y="1103.7">Your text here</text><text class="t w1" x="64" y="1108.3">Your text here</text><text class="t w1" x="178.7" y="1113.3">Your text here</text><text class="t w1" x="178.7" y="1118">Your text here</text><text class="t w1" x="178.7" y="1123">Your text here</text><text class="t w1" x="69" y="1127.7">Your text here</text><text class="t w1" x="69" y="1132.3">Your text here</text><text class="t w1" x="69" y="1137.3">Your text here</text><text class="t w1" x="201.5" y="1138.3">Your text here</text><text class="t w1" x="201.5" y="1143.3">Your text here</text><text class="t w1" x="201.5" y="1148">Your text here</text><text class="t w1" x="86.5" y="1151.7">Your text here</text><text class="t w1" x="86.5" y="1156.3">Your text here</text><text class="t w1" x="86.5" y="1161.3">Your text here</text><text class="t w1" x="110.5" y="1176.3">Your text here</text><text class="t w1" x="110.5" y="1181.3">Your text here</text><text class="t w1" x="110.5" y="1186">Your text here</text><text class="t w1" x="193" y="1170.3">Your text here</text><text class="t w1" x="193" y="1175">Your text here</text><text class="t w1" x="193" y="1180">Your text here</text></g>
</g>

<g id="idea-board">
<rect class="card" x="264.5" y="1065.5" width="232" height="143.5" rx="6"/>
<g clip-path="url(#c17)">
<rect x="262" y="1149" width="11" height="62" rx="2.5" fill="#e8cdd3"/><path class="cdash" stroke="#c9393f" d="M264 1149H270Q273 1149 273 1152V1212"/>
<rect x="276.3" y="1149" width="49.7" height="62" rx="2.5" fill="#f7e3cd"/><rect class="cdash" stroke="#ee9a3a" x="276.3" y="1149" width="49.7" height="62" rx="2.5"/>
<rect x="329.7" y="1149" width="50" height="62" rx="2.5" fill="#f6f6cf"/><rect class="cdash" stroke="#f1e04c" x="329.7" y="1149" width="50" height="62" rx="2.5"/>
<rect x="382.7" y="1149" width="50" height="62" rx="2.5" fill="#e0eed5"/><rect class="cdash" stroke="#8ecf6a" x="382.7" y="1149" width="50" height="62" rx="2.5"/>
<rect x="435.7" y="1149" width="50" height="62" rx="2.5" fill="#cfe0ef"/><rect class="cdash" stroke="#3f8fce" x="435.7" y="1149" width="50" height="62" rx="2.5"/>
<rect x="489" y="1149" width="14" height="62" rx="2.5" fill="#ddd0ea"/><rect class="cdash" stroke="#6a3d9a" x="489" y="1149" width="14" height="62" rx="2.5"/>
<g id="ib-headers">
<rect class="ib" x="279" y="1151.7" width="40" height="5.4"/><circle cx="290.5" cy="1154.4" r="1.5" fill="#ee9a3a"/><text class="t cg" x="301" y="1154.4">CATEGORY</text>
<rect class="ib" x="332.5" y="1151.7" width="39.5" height="5.4"/><circle cx="344" cy="1154.4" r="1.5" fill="#f1e04c"/><text class="t cg" x="354.5" y="1154.4">CATEGORY</text>
<rect class="ib" x="385" y="1151.7" width="40" height="5.4"/><circle cx="397.5" cy="1154.4" r="1.5" fill="#8ecf6a"/><text class="t cg" x="408" y="1154.4">CATEGORY</text>
<rect class="ib" x="438.5" y="1151.7" width="40" height="5.4"/><circle cx="450.5" cy="1154.4" r="1.5" fill="#3f8fce"/><text class="t cg" x="461" y="1154.4">CATEGORY</text>
</g>
<g id="ib-items">
<rect class="ii" x="285" y="1162.5" width="18" height="7"/><rect class="ii" x="285" y="1172.8" width="18" height="7"/><rect class="ii" x="285" y="1183.2" width="18" height="7"/><rect class="ii" x="285" y="1193.5" width="18" height="7"/><rect class="ii" x="285" y="1203.8" width="18" height="7"/>
<rect class="ii" x="338" y="1162.5" width="18" height="7"/><rect class="ii" x="338" y="1172.8" width="18" height="7"/><rect class="ii" x="338" y="1183.2" width="18" height="7"/><rect class="ii" x="338" y="1193.5" width="18" height="7"/><rect class="ii" x="338" y="1203.8" width="18" height="7"/>
<rect class="ii" x="391" y="1162.5" width="18" height="7"/><rect class="ii" x="391" y="1172.8" width="18" height="7"/><rect class="ii" x="391" y="1183.2" width="18" height="7"/><rect class="ii" x="391" y="1193.5" width="18" height="7"/><rect class="ii" x="391" y="1203.8" width="18" height="7"/>
<rect class="ii" x="444.5" y="1162.5" width="18" height="7"/><rect class="ii" x="444.5" y="1172.8" width="18" height="7"/><rect class="ii" x="444.5" y="1183.2" width="18" height="7"/><rect class="ii" x="444.5" y="1193.5" width="18" height="7"/><rect class="ii" x="444.5" y="1203.8" width="18" height="7"/>
<text class="t" x="294" y="1166">Idea</text><text class="t" x="294" y="1176.3">Idea</text><text class="t" x="294" y="1186.7">Idea</text><text class="t" x="294" y="1197">Idea</text><text class="t" x="294" y="1207.3">Idea</text>
<text class="t" x="347" y="1166">Idea</text><text class="t" x="347" y="1176.3">Idea</text><text class="t" x="347" y="1186.7">Idea</text><text class="t" x="347" y="1197">Idea</text><text class="t" x="347" y="1207.3">Idea</text>
<text class="t" x="400" y="1166">Idea</text><text class="t" x="400" y="1176.3">Idea</text><text class="t" x="400" y="1186.7">Idea</text><text class="t" x="400" y="1197">Idea</text><text class="t" x="400" y="1207.3">Idea</text>
<text class="t" x="453.5" y="1166">Idea</text><text class="t" x="453.5" y="1176.3">Idea</text><text class="t" x="453.5" y="1186.7">Idea</text><text class="t" x="453.5" y="1197">Idea</text><text class="t" x="453.5" y="1207.3">Idea</text>
</g>
</g>
</g>

<g id="pyramid">
<rect class="card" x="513.5" y="1065.5" width="231.5" height="143.5" rx="6"/>
<g clip-path="url(#c18)">
<path d="M629.7 1153V1209" stroke="#ccc" stroke-width=".5" fill="none"/>
<path d="M629.7 1120.3 645.7 1153.7H613.3Z" fill="#2d5bd0"/><text class="t py" x="629.7" y="1150.5" style="fill:#1d3d96">Add text</text>
<path d="M610.7 1157.7H649L651 1164.3H608.7Z" fill="#dd5c2f"/><text class="t py" x="629.7" y="1161">Add text</text>
<path d="M605.3 1168.3H654L656 1175.3H603Z" fill="#f3b544"/><text class="t py" x="629.7" y="1171.8">Add text</text>
<path d="M599.3 1179H658.5L661 1186H598Z" fill="#53a9e8"/><text class="t py" x="629.7" y="1182.5">Add text</text>
<path d="M593.7 1189.7H665L667 1197H592.7Z" fill="#8ab52f"/><text class="t py" x="629.7" y="1193.4">Add text</text>
<path d="M588 1200.3H670L671.5 1207.7H587.7Z" fill="#e3d33c"/><text class="t py" x="629.7" y="1204">Add text</text>
</g>
</g>
</g>
</svg>
